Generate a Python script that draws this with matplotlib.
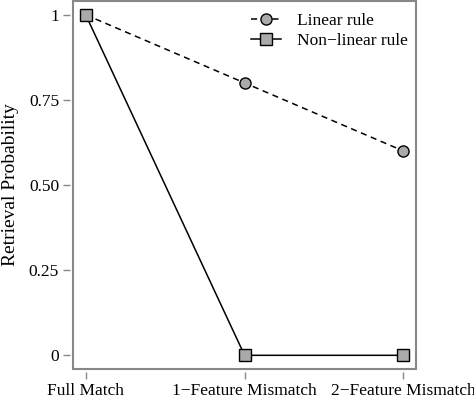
import matplotlib.pyplot as plt
from matplotlib.patches import Rectangle

plt.rcParams['font.family'] = ['Liberation Serif', 'DejaVu Serif']

conditions = ['Full Match', '1\u2212Feature Mismatch', '2\u2212Feature Mismatch']
linear_rule = [1.0, 0.8, 0.6]
nonlinear_rule = [1.0, 0.0, 0.0]
yticks = [0, 0.25, 0.50, 0.75, 1]
yticklabels = ['0', '0.25', '0.50', '0.75', '1']

xs = [1, 2, 3]

fig = plt.figure(figsize=(4.74, 3.95), dpi=100)
ax = fig.add_axes([0.154, 0.066, 0.724, 0.931])

ax.plot(xs, linear_rule, color='black', linestyle=(0, (4, 3)), linewidth=1.1,
        marker='o', markersize=8, markerfacecolor='#aaaaaa',
        markeredgecolor='black', markeredgewidth=1.0, label='Linear rule')
ax.plot(xs, nonlinear_rule, color='black', linestyle='-', linewidth=1.1,
        marker='s', markersize=8, markerfacecolor='#aaaaaa',
        markeredgecolor='black', markeredgewidth=1.0, label='Non\u2212linear rule')

# R style box with ticks pushed slightly outside (do this before tick setup,
# set_position resets the ticks)
for s in ['left', 'bottom']:
    ax.spines[s].set_position(('outward', 2))
for s in ax.spines.values():
    s.set_visible(False)
ax.add_patch(Rectangle((0, 0), 1, 1, transform=ax.transAxes, fill=False,
                       edgecolor='#888888', linewidth=1.5, clip_on=False))

ax.set_xlim(0.92, 3.08)
ax.set_ylim(-0.04, 1.04)
ax.set_xticks(xs)
ax.set_xticklabels(conditions)
ax.set_yticks(yticks)
ax.set_yticklabels(yticklabels)
ax.set_ylabel('Retrieval Probability', fontsize=14, labelpad=7)

ax.tick_params(axis='both', direction='out', length=5, width=1.0,
               color='#888888', labelcolor='black', labelsize=12.5)
ax.tick_params(axis='x', pad=3)
ax.tick_params(axis='y', pad=3)

ax.legend(loc='upper right', frameon=False, fontsize=12.5, handlelength=1.7,
          handletextpad=0.9, borderaxespad=0.3, labelspacing=0.2,
          bbox_to_anchor=(1.01, 1.0))

fig.savefig('out.png', dpi=100)
